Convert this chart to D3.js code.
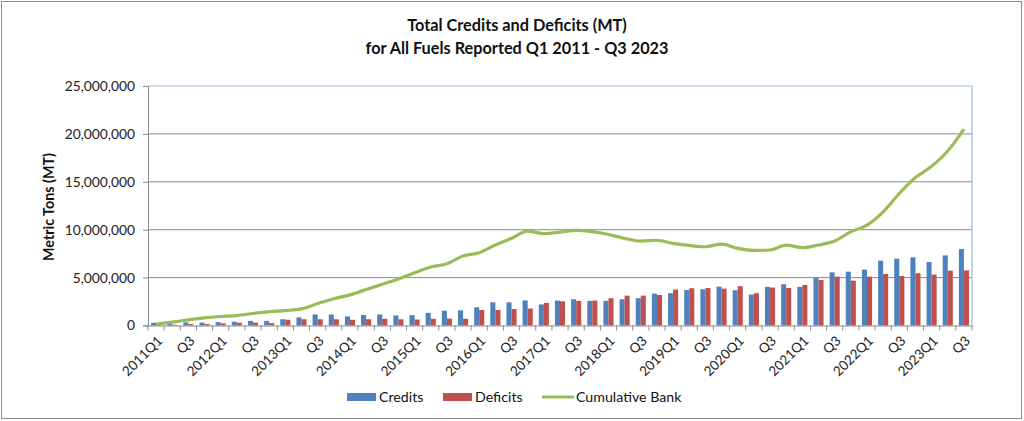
<!DOCTYPE html>
<html><head><meta charset="utf-8">
<script src="https://cdn.jsdelivr.net/npm/d3@7/dist/d3.min.js"></script>
<style>
html,body{margin:0;padding:0;background:#fff;}
svg{display:block;font-family:Lato,"Open Sans",sans-serif;}
</style></head>
<body>
<svg id="chart" width="1024" height="421"></svg>
<script>
const categories = ["2011Q1","2011Q2","2011Q3","2011Q4","2012Q1","2012Q2","2012Q3","2012Q4",
"2013Q1","2013Q2","2013Q3","2013Q4","2014Q1","2014Q2","2014Q3","2014Q4",
"2015Q1","2015Q2","2015Q3","2015Q4","2016Q1","2016Q2","2016Q3","2016Q4",
"2017Q1","2017Q2","2017Q3","2017Q4","2018Q1","2018Q2","2018Q3","2018Q4",
"2019Q1","2019Q2","2019Q3","2019Q4","2020Q1","2020Q2","2020Q3","2020Q4",
"2021Q1","2021Q2","2021Q3","2021Q4","2022Q1","2022Q2","2022Q3","2022Q4",
"2023Q1","2023Q2","2023Q3"];
const tickLabels = ["2011Q1","","Q3","","2012Q1","","Q3","","2013Q1","","Q3","","2014Q1","","Q3","",
"2015Q1","","Q3","","2016Q1","","Q3","","2017Q1","","Q3","","2018Q1","","Q3","",
"2019Q1","","Q3","","2020Q1","","Q3","","2021Q1","","Q3","","2022Q1","","Q3","",
"2023Q1","","Q3"];
const credits = [280000,200000,320000,300000,350000,400000,480000,480000,650000,850000,1150000,1150000,
950000,1100000,1150000,1050000,1080000,1320000,1550000,1580000,1900000,2420000,2420000,2620000,
2200000,2600000,2740000,2570000,2570000,2740000,2850000,3330000,3370000,3700000,3780000,4060000,
3680000,3230000,4030000,4300000,4030000,4960000,5550000,5620000,5830000,6770000,6970000,7110000,
6630000,7320000,7980000];
const deficits = [50000,80000,150000,150000,220000,280000,300000,250000,600000,650000,650000,650000,
600000,650000,700000,650000,620000,700000,720000,700000,1620000,1620000,1720000,1770000,
2360000,2530000,2570000,2600000,2850000,3120000,3120000,3190000,3750000,3890000,3920000,3850000,
4100000,3370000,3960000,3920000,4230000,4750000,5100000,4680000,5100000,5380000,5170000,5450000,
5310000,5730000,5760000];
const cumulativeBank = [140000,350000,590000,800000,940000,1040000,1250000,1450000,1560000,1730000,2300000,2800000,
3200000,3750000,4300000,4850000,5500000,6100000,6450000,7250000,7600000,8400000,9100000,9850000,
9600000,9750000,9920000,9800000,9500000,9100000,8800000,8900000,8570000,8360000,8220000,8500000,
8050000,7840000,7880000,8400000,8120000,8400000,8810000,9800000,10480000,11870000,13780000,15440000,
16620000,18220000,20500000];
const yTicks = [0,5000000,10000000,15000000,20000000,25000000];
const seriesNames = ["Credits","Deficits","Cumulative Bank"];
const colors = {"Credits":"#4F81BD","Deficits":"#C0504D","Cumulative Bank":"#9BBB59"};

const svg = d3.select("#chart");
svg.append("rect").attr("x",1.5).attr("y",1.5).attr("width",1020).attr("height",417)
  .attr("fill","#fff").attr("stroke","#8c8c8c").attr("stroke-width",1);

const L=148, R=972, T=86, B=325.5;
const x = d3.scaleBand().domain(categories).range([L,R]).padding(0);
const xs = d3.scaleBand().domain(["Credits","Deficits"]).range([0,x.bandwidth()]).paddingInner(0).paddingOuter(0.6);
const y = d3.scaleLinear().domain([0,25000000]).range([B,T]);

svg.append("g").selectAll("line").data(yTicks.filter(d=>d>0 && d<25000000)).join("line")
  .attr("x1",L).attr("x2",R).attr("y1",d=>y(d)).attr("y2",d=>y(d))
  .attr("stroke","#8a8a8a").attr("stroke-width",1);

svg.append("path").attr("d",`M${L},${T}H${R}V${B}`).attr("fill","none").attr("stroke","#9db8dc").attr("stroke-width",1.2);

const yAxis = d3.axisLeft(y).tickValues(yTicks).tickSize(5).tickPadding(8).tickFormat(d3.format(","));
const gy = svg.append("g").attr("transform",`translate(${L},0)`).call(yAxis);
gy.select(".domain").attr("stroke","#8a8a8a");
gy.selectAll(".tick line").attr("stroke","#8a8a8a");
gy.selectAll("text").attr("font-size",13.8).attr("fill","#222").attr("font-family","Lato");

const groups = svg.append("g").selectAll("g").data(categories).join("g")
  .attr("transform",d=>`translate(${x(d)},0)`);
groups.append("rect").attr("x",xs("Credits")).attr("width",xs.bandwidth())
  .attr("y",(d,i)=>y(credits[i])).attr("height",(d,i)=>B-y(credits[i])).attr("fill",colors.Credits);
groups.append("rect").attr("x",xs("Deficits")).attr("width",xs.bandwidth())
  .attr("y",(d,i)=>y(deficits[i])).attr("height",(d,i)=>B-y(deficits[i])).attr("fill",colors.Deficits);

const xAxis = d3.axisBottom(x).tickSize(0).tickFormat((d,i)=>tickLabels[i]);
const gx = svg.append("g").attr("transform",`translate(0,${B})`).call(xAxis);
gx.select(".domain").attr("stroke","#8a8a8a");
gx.selectAll(".tick text").attr("font-size",13.5).attr("fill","#222").attr("font-family","Lato")
  .attr("text-anchor","end").attr("dy",0).attr("transform","translate(5,14) rotate(-45)");
svg.append("g").selectAll("line").data(categories.concat(["end"])).join("line")
  .attr("x1",(d,i)=>L+i*x.step()).attr("x2",(d,i)=>L+i*x.step())
  .attr("y1",B).attr("y2",B+5).attr("stroke","#8a8a8a");

const line = d3.line().x((d,i)=>x(categories[i])+x.bandwidth()/2).y(d=>y(d)).curve(d3.curveMonotoneX);
svg.append("path").datum(cumulativeBank).attr("d",line).attr("fill","none")
  .attr("stroke",colors["Cumulative Bank"]).attr("stroke-width",3.2).attr("stroke-linejoin","round");

svg.append("text").attr("x",517).attr("y",31).attr("text-anchor","middle").attr("font-size",16.3)
  .attr("font-weight","bold").attr("fill","#111").text("Total Credits and Deficits (MT)");
svg.append("text").attr("x",517).attr("y",54).attr("text-anchor","middle").attr("font-size",16.3)
  .attr("font-weight","bold").attr("fill","#111").text("for All Fuels Reported Q1 2011 - Q3 2023");
svg.append("text").attr("transform","translate(54,207) rotate(-90)").attr("text-anchor","middle")
  .attr("font-size",14.3).attr("font-weight","bold").attr("fill","#111").text("Metric Tons (MT)");

const lg = svg.append("g").attr("font-size",14.2).attr("fill","#111");
const lx = {"Credits":347,"Deficits":443,"Cumulative Bank":542};
seriesNames.forEach(n=>{
  if(n==="Cumulative Bank"){
    lg.append("line").attr("x1",lx[n]).attr("x2",lx[n]+32).attr("y1",397).attr("y2",397)
      .attr("stroke",colors[n]).attr("stroke-width",3);
    lg.append("text").attr("x",lx[n]+34).attr("y",402).text(n);
  } else {
    lg.append("rect").attr("x",lx[n]).attr("y",393).attr("width",29).attr("height",8).attr("fill",colors[n]);
    lg.append("text").attr("x",lx[n]+32).attr("y",402).text(n);
  }
});
</script>
</body></html>
